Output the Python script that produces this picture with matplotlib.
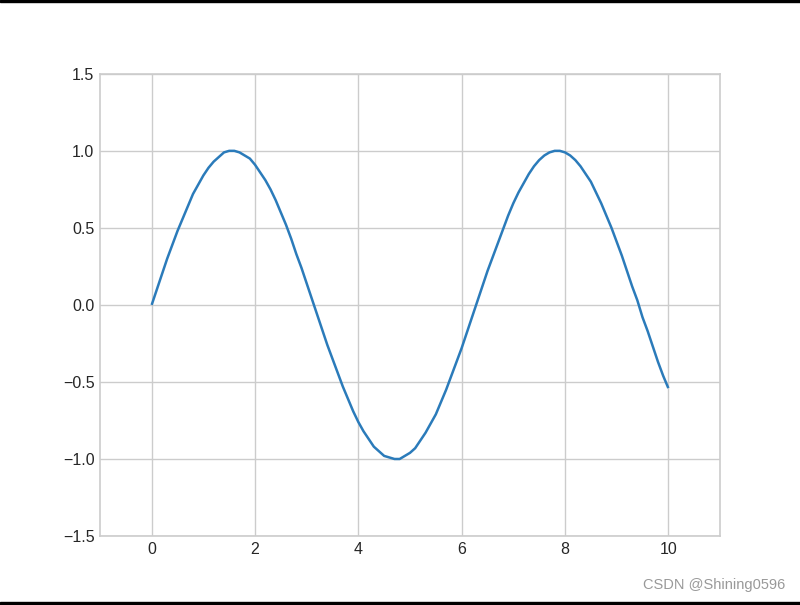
import matplotlib
matplotlib.use("Agg")
import matplotlib.pyplot as plt
from matplotlib.patches import Rectangle

# values
x = [0.0, 0.1, 0.2, 0.3, 0.4, 0.5, 0.6, 0.7, 0.8, 0.9,
     1.0, 1.1, 1.2, 1.3, 1.4, 1.5, 1.6, 1.7, 1.8, 1.9,
     2.0, 2.1, 2.2, 2.3, 2.4, 2.5, 2.6, 2.7, 2.8, 2.9,
     3.0, 3.1, 3.2, 3.3, 3.4, 3.5, 3.6, 3.7, 3.8, 3.9,
     4.0, 4.1, 4.2, 4.3, 4.4, 4.5, 4.6, 4.7, 4.8, 4.9,
     5.0, 5.1, 5.2, 5.3, 5.4, 5.5, 5.6, 5.7, 5.8, 5.9,
     6.0, 6.1, 6.2, 6.3, 6.4, 6.5, 6.6, 6.7, 6.8, 6.9,
     7.0, 7.1, 7.2, 7.3, 7.4, 7.5, 7.6, 7.7, 7.8, 7.9,
     8.0, 8.1, 8.2, 8.3, 8.4, 8.5, 8.6, 8.7, 8.8, 8.9,
     9.0, 9.1, 9.2, 9.3, 9.4, 9.5, 9.6, 9.7, 9.8, 9.9, 10.0]
y = [0.00, 0.10, 0.20, 0.30, 0.39, 0.48, 0.56, 0.64, 0.72, 0.78,
     0.84, 0.89, 0.93, 0.96, 0.99, 1.00, 1.00, 0.99, 0.97, 0.95,
     0.91, 0.86, 0.81, 0.75, 0.68, 0.60, 0.52, 0.43, 0.33, 0.24,
     0.14, 0.04, -0.06, -0.16, -0.26, -0.35, -0.44, -0.53, -0.61, -0.69,
     -0.76, -0.82, -0.87, -0.92, -0.95, -0.98, -0.99, -1.00, -1.00, -0.98,
     -0.96, -0.93, -0.88, -0.83, -0.77, -0.71, -0.63, -0.55, -0.46, -0.37,
     -0.28, -0.18, -0.08, 0.02, 0.12, 0.22, 0.31, 0.40, 0.49, 0.58,
     0.66, 0.73, 0.79, 0.85, 0.90, 0.94, 0.97, 0.99, 1.00, 1.00,
     0.99, 0.97, 0.94, 0.90, 0.85, 0.80, 0.73, 0.66, 0.58, 0.50,
     0.41, 0.32, 0.22, 0.12, 0.03, -0.08, -0.17, -0.27, -0.37, -0.46, -0.54]

xticks = [0, 2, 4, 6, 8, 10]
yticks = [-1.5, -1.0, -0.5, 0.0, 0.5, 1.0, 1.5]

plt.style.use("seaborn-v0_8-whitegrid")
plt.rcParams["font.family"] = ["Liberation Sans", "DejaVu Sans"]

fig = plt.figure(figsize=(8, 6.05), dpi=100)
ax = fig.add_axes([0.125, 0.114, 0.775, 0.764])

ax.plot(x, y, color="#2b7bba", linewidth=1.8, solid_capstyle="butt")

ax.set_xlim(-1, 11)
ax.set_ylim(-1.5, 1.5)
ax.set_xticks(xticks)
ax.set_yticks(yticks)
ax.set_yticklabels([f"{v:.1f}".replace("-", "\u2212") for v in yticks])
ax.tick_params(labelsize=11.5, colors="#262626", length=0)
ax.tick_params(axis="x", pad=4)
ax.tick_params(axis="y", pad=4)

for s in ax.spines.values():
    s.set_visible(True)
    s.set_color("#cccccc")
    s.set_linewidth(1.2)
ax.grid(True, color="#cccccc", linewidth=1.0)

# screenshot edges + watermark
fig.add_artist(Rectangle((0, 1 - 2 / 605), 1, 2 / 605, transform=fig.transFigure,
                         color="black", zorder=10))
fig.add_artist(Rectangle((0, 0), 1, 3 / 605, transform=fig.transFigure,
                         color="black", zorder=10))
fig.text(0.982, 0.033, "CSDN @Shining0596", ha="right", va="center",
         fontsize=10.5, color="#999999")

fig.savefig("out.png", dpi=100)
